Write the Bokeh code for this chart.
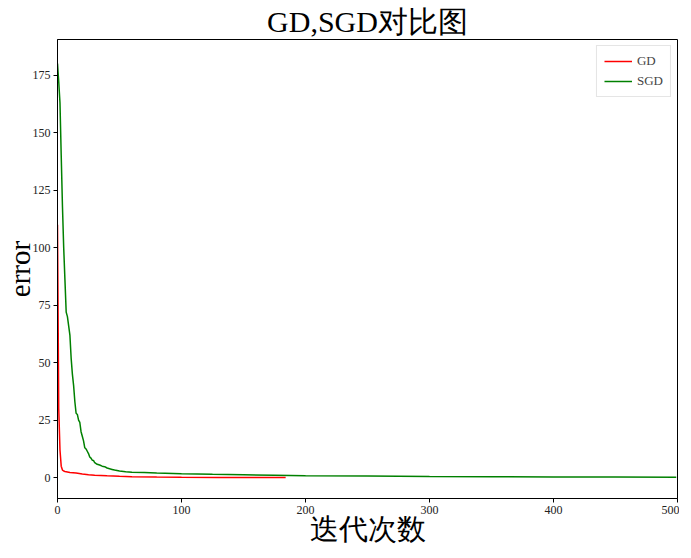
from bokeh.plotting import figure
from bokeh.models import Range1d, FixedTicker
from bokeh.embed import file_html
from bokeh.resources import INLINE

# GD: full-batch gradient descent, error per iteration
gd_iter = [0, 1, 2, 3, 4, 5, 6, 8, 10, 15, 20, 25, 30, 40, 50, 60, 80, 100,
           130, 160, 184]
gd_error = [110, 30, 12, 5, 3.3, 2.9, 2.7, 2.5, 2.3, 2.0, 1.6, 1.3, 1.1, 0.8,
            0.6, 0.45, 0.3, 0.2, 0.12, 0.08, 0.05]

# SGD: stochastic gradient descent
sgd_iter = [0, 1, 2, 3, 4, 5, 6, 7, 8, 9, 10, 11, 12, 13, 14, 15, 16, 17, 18,
            19, 20, 21, 22, 23, 24, 25, 26, 27, 28, 29, 30, 32, 34, 36, 38,
            40, 42, 44, 46, 48, 50, 55, 60, 70, 80, 100, 125, 150, 175, 200,
            250, 300, 350, 400, 450, 499]
sgd_error = [180, 172, 163, 140, 118, 100, 86, 72, 70, 66, 62, 52, 45, 40, 33,
             28, 27.5, 25, 24, 20, 18, 16, 13, 12.5, 11.5, 10.5, 9, 8.5, 7.6,
             7.5, 6.5, 5.8, 5.5, 5.0, 4.8, 4.2, 3.9, 3.6, 3.3, 3.1, 2.9, 2.6,
             2.4, 2.2, 2.0, 1.7, 1.45, 1.25, 1.05, 0.85, 0.7, 0.55, 0.45,
             0.35, 0.28, 0.2]

x_ticks = [0, 100, 200, 300, 400, 500]
y_ticks = [0, 25, 50, 75, 100, 125, 150, 175]

SERIF = "Liberation Serif"

p = figure(frame_width=620, frame_height=459,
           x_range=Range1d(0, 500), y_range=Range1d(-9.05, 190.5),
           output_backend="svg", toolbar_location=None,
           min_border_left=53, min_border_right=2,
           min_border_top=35, min_border_bottom=48)

p.title.text = "GD,SGD对比图"
p.title.align = "center"
p.title.text_font = SERIF
p.title.text_font_size = "30px"
p.title.text_font_style = "normal"
p.title.text_color = "black"
p.title.standoff = 4

p.line(gd_iter, gd_error, color="#ff0000", line_width=1.5, legend_label="GD")
p.line(sgd_iter, sgd_error, color="#008000", line_width=1.5, legend_label="SGD")

p.xgrid.visible = False
p.ygrid.visible = False
p.outline_line_color = "black"
p.outline_line_alpha = 1

p.xaxis.ticker = FixedTicker(ticks=x_ticks)
p.yaxis.ticker = FixedTicker(ticks=y_ticks)
p.xaxis.axis_label = "迭代次数"
p.yaxis.axis_label = "error"

for ax in (p.xaxis, p.yaxis):
    ax.axis_line_color = "black"
    ax.major_tick_line_color = "black"
    ax.minor_tick_line_color = None
    ax.major_tick_in = 0
    ax.major_tick_out = 4
    ax.major_label_text_font = SERIF
    ax.major_label_text_font_size = "12px"
    ax.major_label_text_color = "#222222"
    ax.major_label_standoff = 3
    ax.axis_label_text_font = SERIF
    ax.axis_label_text_font_size = "29px"
    ax.axis_label_text_font_style = "normal"
    ax.axis_label_text_color = "black"

p.yaxis.axis_label_standoff = -6
p.xaxis.axis_label_standoff = -4
p.yaxis.major_label_orientation = "horizontal"

p.legend.location = "top_right"
p.legend.label_text_font = SERIF
p.legend.label_text_font_size = "13px"
p.legend.glyph_width = 28
p.legend.glyph_height = 16
p.legend.spacing = 4
p.legend.padding = 7
p.legend.margin = 6
p.legend.border_line_color = "#cccccc"
p.legend.background_fill_alpha = 0.8

open("out.html", "w").write(file_html(p, INLINE))
